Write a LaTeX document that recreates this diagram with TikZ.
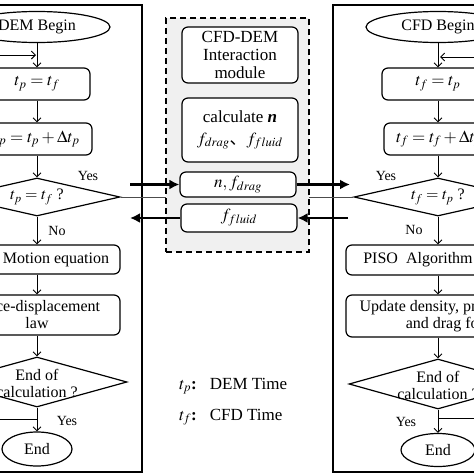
\documentclass[tikz,border=0pt]{standalone}
\usepackage{mathptmx}
\usepackage{fontspec}
\setmainfont{Liberation Serif}
\newfontfamily\cjk{Noto Sans CJK SC}
\usetikzlibrary{shapes.geometric,arrows.meta}
\begin{document}
\begin{tikzpicture}[x=1pt,y=-1pt,
  font=\fontsize{16}{17}\selectfont,
  rbox/.style={draw, rounded corners=6pt, fill=white, inner sep=0pt, align=center, line width=1.2pt},
  ell/.style={draw, ellipse, inner sep=0pt, fill=white, line width=1.2pt},
  dia/.style={draw, diamond, inner sep=0pt, fill=white, line width=1.2pt},
  dtext/.style={align=center, inner sep=0pt},
  lab/.style={font=\fontsize{14}{15}\selectfont, inner sep=0pt},
  flow/.style={-{Straight Barb[length=4pt,width=8pt]}, line width=0.9pt},
  thinline/.style={line width=0.8pt, black!70},
  bigarrow/.style={-{Latex[length=10pt,width=10pt]}, line width=2.6pt},
  panel/.style={draw, line width=1.8pt, inner sep=0pt},
  module/.style={draw, dashed, dash pattern=on 6pt off 4pt, line width=1.8pt, fill=gray!12, inner sep=0pt}
]
\useasboundingbox (0,0) rectangle (474,474);
\clip (0,0) rectangle (474,474);
\fill[white] (0,0) rectangle (474,474);

% panels
\node[panel, minimum width=242pt, minimum height=467pt] (panelL) at (21,238.5) {};
\node[panel, minimum width=242pt, minimum height=467pt] (panelR) at (454,238.5) {};

% thin Yes line through middle
\node[dia, minimum width=166pt, minimum height=38pt] (dL1) at (37,197) {};
\node[dia, minimum width=168pt, minimum height=38pt] (dR1) at (438,197) {};
\draw[thinline] (dL1.east) -- (dR1.west);
\node[dtext] (dL1t) at (37,197) {$t_p = t_f$ ?};
\node[dtext] (dR1t) at (438,197) {$t_f = t_p$ ?};

% middle module
\node[module, minimum width=143pt, minimum height=234pt] (mod) at (237.5,135) {};
\node[rbox, minimum width=116pt, minimum height=56pt, font=\fontsize{17}{18}\selectfont] (m1) at (240,55) {CFD-DEM\\Interaction\\module};
\node[rbox, minimum width=116pt, minimum height=64pt, font=\fontsize{17}{22}\selectfont] (m2) at (240,130) {calculate \textbf{\textit{n}}\\$f_{drag}${\cjk 、}$f_{fluid}$};
\node[rbox, minimum width=116pt, minimum height=25pt, font=\fontsize{17}{18}\selectfont] (m3) at (238,184.5) {$n, f_{drag}$};
\node[rbox, minimum width=116pt, minimum height=28pt, font=\fontsize{17}{18}\selectfont] (m4) at (239,218) {$f_{fluid}$};

\coordinate (aL1) at (130,184.5);
\coordinate (aR1) at (350,184.5);
\coordinate (aR2) at (348,218);
\coordinate (aL2) at (130,218);
\draw[bigarrow] (aL1) -- (m3.west);
\draw[bigarrow] (m3.east) -- (aR1);
\draw[bigarrow] (aR2) -- (m4.east);
\draw[bigarrow] (m4.west) -- (aL2);

% left column
\node[ell, minimum width=146pt, minimum height=31pt] (beginL) at (37,27) {DEM Begin};
\node[rbox, minimum width=106pt, minimum height=32pt, font=\fontsize{17}{18}\selectfont] (L1) at (37,84) {$t_p = t_f$};
\node[rbox, minimum width=110pt, minimum height=32pt, font=\fontsize{17}{18}\selectfont] (L2) at (37,139) {$t_p = t_p + \Delta t_p$};
\node[rbox, minimum width=128pt, minimum height=29pt] (L3) at (56,259.5) {Motion equation};
\node[rbox, minimum width=166pt, minimum height=40pt] (L4) at (37,315) {Force-displacement\\law};
\node[dia, minimum width=180pt, minimum height=50pt] (dL2) at (37,382) {};
\node[dtext] (dL2t) at (37,383) {End of\\calculation ?};
\node[ell, minimum width=70pt, minimum height=34pt] (endL) at (37,449) {End};

\draw[flow] (beginL.south) -- (L1.north);
\draw[flow] (L1.south) -- (L2.north);
\draw[flow] (L2.south) -- (dL1.north);
\draw[flow] (dL1.south) -- (dL1.south |- L3.north);
\draw[flow] (dL1.south |- L3.south) -- (L4.north);
\draw[flow] (L4.south) -- (dL2.north);
\draw[flow] (dL2.south) -- (endL.north);
\coordinate (loopLb) at (-20,419);
\coordinate (loopLt) at (-20,55);
\coordinate (entryL) at (36,55);
\draw[flow] (dL2.south |- loopLb) -- (loopLb) -- (loopLt) -- (entryL);
\node[lab] (yesL1) at (88,176) {Yes};
\node[lab] (noL1) at (57,231) {No};
\node[lab] (yesL2) at (67,421) {Yes};

% right column
\node[ell, minimum width=144pt, minimum height=31pt] (beginR) at (438,27) {CFD Begin};
\node[rbox, minimum width=112pt, minimum height=32pt, font=\fontsize{17}{18}\selectfont] (R1) at (438,84) {$t_f = t_p$};
\node[rbox, minimum width=110pt, minimum height=32pt, font=\fontsize{17}{18}\selectfont] (R2) at (439,139) {$t_f = t_f + \Delta t_f$};
\node[rbox, minimum width=144pt, minimum height=30pt] (R3) at (418,260) {PISO\ \ Algorithm};
\node[rbox, minimum width=184pt, minimum height=42pt] (R4) at (438,316) {Update density, pressure\\\hspace*{28pt}and drag force};
\node[dia, minimum width=178pt, minimum height=50pt] (dR2) at (438,384) {};
\node[dtext] (dR2t) at (438,385) {End of\\calculation ?};
\node[ell, minimum width=74pt, minimum height=33pt] (endR) at (438,450) {End};

\draw[flow] (beginR.south) -- (R1.north);
\draw[flow] (R1.south) -- (R1.south |- R2.north);
\draw[flow] (R1.south |- R2.south) -- (dR1.north);
\draw[flow] (dR1.south) -- (dR1.south |- R3.north);
\draw[flow] (dR1.south |- R3.south) -- (R4.north);
\draw[flow] (R4.south) -- (dR2.north);
\draw[flow] (dR2.south) -- (endR.north);
\coordinate (loopRb) at (495,418);
\coordinate (loopRt) at (495,57);
\coordinate (entryR) at (440,57);
\draw[flow] (dR2.south |- loopRb) -- (loopRb) -- (loopRt) -- (entryR);
\node[lab] (yesR1) at (386,176) {Yes};
\node[lab] (noR1) at (414,230) {No};
\node[lab] (yesR2) at (406,422) {Yes};

% legend
\node[anchor=west, inner sep=0pt, font=\fontsize{17}{18}\selectfont] (lg1) at (179,386) {$t_p$\textbf{:}\hspace{13pt}DEM Time};
\node[anchor=west, inner sep=0pt, font=\fontsize{17}{18}\selectfont] (lg2) at (179,417) {$t_f$\textbf{:}\hspace{13pt}CFD Time};
\end{tikzpicture}
\end{document}
